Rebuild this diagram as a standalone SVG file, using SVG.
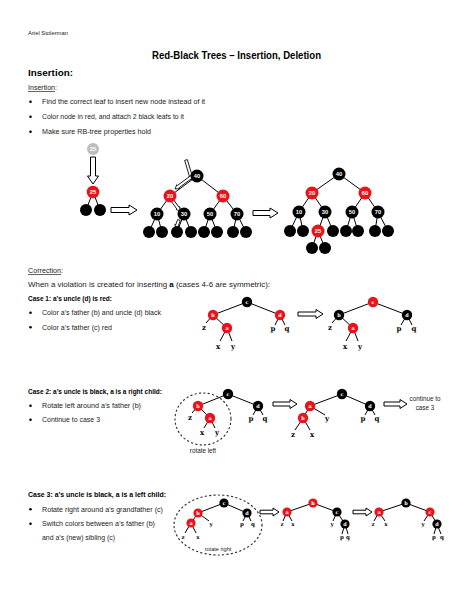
<svg xmlns="http://www.w3.org/2000/svg" width="474" height="613" viewBox="0 0 474 613">
<style>
.t{font-family:"Liberation Sans",Arial,sans-serif;font-size:7px;fill:#222}
.bd{font-weight:bold;fill:#000}
.u{text-decoration:underline}
.e{stroke:#000;stroke-width:1;fill:none}
.r{fill:#e8141c}
.k{fill:#000}
.g{fill:#bdbdbd}
.nl{font-family:"Liberation Sans",Arial,sans-serif;font-weight:bold;font-size:5.8px;fill:#fff;text-anchor:middle}
.cl{font-family:"DejaVu Serif","Liberation Serif",serif;font-weight:bold;font-size:5px;fill:#fff;text-anchor:middle}
.lt{font-family:"DejaVu Serif","Liberation Serif",serif;font-weight:bold;font-size:7px;fill:#000;text-anchor:middle}
.ls{font-size:5.5px}
.ha{fill:#fff;stroke:#000;stroke-width:1;stroke-linejoin:miter}
.sa{fill:#fff;stroke:#000;stroke-width:0.8}
.dash{fill:none;stroke:#333;stroke-width:1.2;stroke-dasharray:1.2,3.2;stroke-linecap:round}
.an{font-family:"Liberation Sans",Arial,sans-serif;font-size:6.3px;fill:#222;text-anchor:middle}
</style>
<rect width="474" height="613" fill="#fff"/>

<g id="text">
<text class="t" x="28" y="35" textLength="40" lengthAdjust="spacingAndGlyphs" style="font-size:5px">Ariel Stolerman</text>
<text class="t bd" x="152" y="59" textLength="169" lengthAdjust="spacingAndGlyphs" style="font-size:11px">Red-Black Trees – Insertion, Deletion</text>
<text class="t bd" x="28" y="75.5" textLength="45" lengthAdjust="spacingAndGlyphs" style="font-size:9px">Insertion:</text>
<text class="t" x="28" y="90" textLength="29" lengthAdjust="spacingAndGlyphs"><tspan class="u">Insertion</tspan>:</text>
<circle cx="30.5" cy="101.8" r="1.3" fill="#000"/>
<text class="t" x="42" y="104" textLength="163" lengthAdjust="spacingAndGlyphs">Find the correct leaf to insert new node instead of it</text>
<circle cx="30.5" cy="116.8" r="1.3" fill="#000"/>
<text class="t" x="42" y="119" textLength="142" lengthAdjust="spacingAndGlyphs">Color node in red, and attach 2 black leafs to it</text>
<circle cx="30.5" cy="131.8" r="1.3" fill="#000"/>
<text class="t" x="42" y="134" textLength="109" lengthAdjust="spacingAndGlyphs">Make sure RB-tree properties hold</text>

<text class="t" x="28" y="273" textLength="35" lengthAdjust="spacingAndGlyphs"><tspan class="u">Correction</tspan>:</text>
<text class="t" x="28" y="287" textLength="242" lengthAdjust="spacingAndGlyphs">When a violation is created for inserting <tspan class="bd">a</tspan> (cases 4-6 are symmetric):</text>
<text class="t bd" x="28" y="301" textLength="84" lengthAdjust="spacingAndGlyphs">Case 1: a’s uncle (d) is red:</text>
<circle cx="30.5" cy="312.8" r="1.3" fill="#000"/>
<text class="t" x="42" y="315" textLength="119" lengthAdjust="spacingAndGlyphs">Color a’s father (b) and uncle (d) black</text>
<circle cx="30.5" cy="327.3" r="1.3" fill="#000"/>
<text class="t" x="42" y="329.5" textLength="70" lengthAdjust="spacingAndGlyphs">Color a’s father (c) red</text>

<text class="t bd" x="28" y="393.5" textLength="134" lengthAdjust="spacingAndGlyphs">Case 2: a’s uncle is black, a is a right child:</text>
<circle cx="30.5" cy="405.8" r="1.3" fill="#000"/>
<text class="t" x="42" y="408" textLength="99" lengthAdjust="spacingAndGlyphs">Rotate left around a’s father (b)</text>
<circle cx="30.5" cy="419.8" r="1.3" fill="#000"/>
<text class="t" x="42" y="422" textLength="58" lengthAdjust="spacingAndGlyphs">Continue to case 3</text>

<text class="t bd" x="28" y="497" textLength="138" lengthAdjust="spacingAndGlyphs">Case 3: a’s uncle is black, a is a left child:</text>
<circle cx="30.5" cy="509.3" r="1.3" fill="#000"/>
<text class="t" x="42" y="511.5" textLength="121" lengthAdjust="spacingAndGlyphs">Rotate right around a’s grandfather (c)</text>
<circle cx="30.5" cy="523.8" r="1.3" fill="#000"/>
<text class="t" x="42" y="526" textLength="113" lengthAdjust="spacingAndGlyphs">Switch colors between a’s father (b)</text>
<text class="t" x="42" y="540" textLength="73" lengthAdjust="spacingAndGlyphs">and a’s (new) sibling (c)</text>
</g>

<g id="connectors">
<line class="e" x1="93" y1="192" x2="86" y2="210"/><line class="e" x1="93" y1="192" x2="100" y2="210"/>
<path class="e" d="M197,176L170,196M197,176L223,196M170,196L157,214M170,196L184,214M223,196L210,214M223,196L237,214M157,214L149,232M157,214L162,232M184,214L177,232M184,214L191,232M210,214L204,232M210,214L217,232M237,214L233,232M237,214L246,232"/>
<path class="e" d="M339,174L312,193M339,174L365,193M312,193L299,212M312,193L325,212M365,193L352,212M365,193L378,212M299,212L290,231M299,212L303,231M325,212L318,231M325,212L333,231M352,212L346,231M352,212L358,231M378,212L375,231M378,212L388,231M318,231L312,248M318,231L325,248"/>
<path class="e" d="M247,302L213,315M247,302L280,315M213,315L227,328M213,315L206,323M227,328L220,341M227,328L232,341M280,315L275,325M280,315L285,325"/>
<path class="e" d="M373,302L339,315M373,302L407,315M339,315L353,328M339,315L332,323M353,328L346,341M353,328L358,341M407,315L401,325M407,315L412,325"/>
<path class="e" d="M228,394L198,406M228,394L258,406M198,406L210,418M198,406L192,413M210,418L204,428M210,418L215,428M258,406L253,415M258,406L263,415"/>
<path class="e" d="M342,394L310,406M342,394L370,406M310,406L303,418M310,406L325,415M303,418L295,430M303,418L310,430M370,406L365,415M370,406L375,415"/>
<path class="e" d="M224,503L198,513M224,503L247,513M198,513L191,523M198,513L209,521M191,523L185,533M191,523L196,533M247,513L243,521M247,513L251,521"/>
<path class="e" d="M313,503L287,512M313,503L337,512M287,512L283,521M287,512L292,521M337,512L333,521M337,512L345,524M345,524L342,534M345,524L348,534"/>
<path class="e" d="M406,503L379,512M406,503L430,512M379,512L374,521M379,512L385,521M430,512L424,521M430,512L437,524M437,524L434,534M437,524L441,534"/>

<path class="ha" d="M90.5,157V176H87.5L93,184L98.5,176H95.5V157Z"/>
<path class="ha" d="M111,207.5H129V205L137,210L129,215V212.5H111Z"/>
<path class="ha" d="M253,210.5H270V208L278,213L270,218V215.5H253Z"/>
<path class="ha" d="M298,312H316V309.5L323,314L316,318.5V316H298Z"/>
<path class="ha" d="M273,402H290V399.5L297,404L290,408.5V406H273Z"/>
<path class="ha" d="M384,402H400V399.5L407,404L400,408.5V406H384Z"/>
<path class="ha" d="M260,510.2H273V508L279,512L273,516V513.8H260Z"/>
<path class="ha" d="M353,510.2H366V508L372,512L366,516V513.8H353Z"/>

<path class="sa" transform="translate(186,160) rotate(73.3)" d="M0,-1.4H17V-2.4L21,0L17,2.4V1.4H0Z"/>
<path class="sa" transform="translate(194,175) rotate(143.6)" d="M0,-1.4H19.6V-2.4L23.6,0L19.6,2.4V1.4H0Z"/>
<path class="sa" transform="translate(172,200) rotate(54)" d="M0,-1.4H10V-2.4L13.6,0L10,2.4V1.4H0Z"/>
<path class="sa" transform="translate(179,220) rotate(110.6)" d="M0,-1.4H5.5V-2.4L8.5,0L5.5,2.4V1.4H0Z"/>

<ellipse class="dash" cx="203" cy="419" rx="28" ry="26"/>
<ellipse class="dash" cx="218" cy="525" rx="44" ry="30"/>
</g>

<g id="tree1">
<g id="t1-new25"><circle class="g" cx="93" cy="149" r="6"/><text class="nl" x="93" y="151">25</text></g>
<g id="t1-n25"><circle class="r" cx="93" cy="192" r="6.3"/><text class="nl" x="93" y="194">25</text></g>
<g id="t1-l1"><circle class="k" cx="86" cy="210" r="6"/></g>
<g id="t1-l2"><circle class="k" cx="100" cy="210" r="6"/></g>
</g>

<g id="tree2">
<g id="t2-n40"><circle class="k" cx="197" cy="176" r="6.5"/><text class="nl" x="197" y="178">40</text></g>
<g id="t2-n20"><circle class="r" cx="170" cy="196" r="6.5"/><text class="nl" x="170" y="198">20</text></g>
<g id="t2-n60"><circle class="r" cx="223" cy="196" r="6.5"/><text class="nl" x="223" y="198">60</text></g>
<g id="t2-n10"><circle class="k" cx="157" cy="214" r="6.5"/><text class="nl" x="157" y="216">10</text></g>
<g id="t2-n30"><circle class="k" cx="184" cy="214" r="6.5"/><text class="nl" x="184" y="216">30</text></g>
<g id="t2-n50"><circle class="k" cx="210" cy="214" r="6.5"/><text class="nl" x="210" y="216">50</text></g>
<g id="t2-n70"><circle class="k" cx="237" cy="214" r="6.5"/><text class="nl" x="237" y="216">70</text></g>
<g id="t2-leaves">
<circle class="k" cx="149" cy="232" r="6"/><circle class="k" cx="162" cy="232" r="6"/>
<circle class="k" cx="177" cy="232" r="6"/><circle class="k" cx="191" cy="232" r="6"/>
<circle class="k" cx="204" cy="232" r="6"/><circle class="k" cx="217" cy="232" r="6"/>
<circle class="k" cx="233" cy="232" r="6"/><circle class="k" cx="246" cy="232" r="6"/>
</g>
</g>

<g id="tree3">
<g id="t3-n40"><circle class="k" cx="339" cy="174" r="6.5"/><text class="nl" x="339" y="176">40</text></g>
<g id="t3-n20"><circle class="r" cx="312" cy="193" r="6.5"/><text class="nl" x="312" y="195">20</text></g>
<g id="t3-n60"><circle class="r" cx="365" cy="193" r="6.5"/><text class="nl" x="365" y="195">60</text></g>
<g id="t3-n10"><circle class="k" cx="299" cy="212" r="6.5"/><text class="nl" x="299" y="214">10</text></g>
<g id="t3-n30"><circle class="k" cx="325" cy="212" r="6.5"/><text class="nl" x="325" y="214">30</text></g>
<g id="t3-n50"><circle class="k" cx="352" cy="212" r="6.5"/><text class="nl" x="352" y="214">50</text></g>
<g id="t3-n70"><circle class="k" cx="378" cy="212" r="6.5"/><text class="nl" x="378" y="214">70</text></g>
<g id="t3-n25"><circle class="r" cx="318" cy="231" r="6.5"/><text class="nl" x="318" y="233">25</text></g>
<g id="t3-leaves">
<circle class="k" cx="290" cy="231" r="6"/><circle class="k" cx="303" cy="231" r="6"/>
<circle class="k" cx="333" cy="231" r="6"/>
<circle class="k" cx="346" cy="231" r="6"/><circle class="k" cx="358" cy="231" r="6"/>
<circle class="k" cx="375" cy="231" r="6"/><circle class="k" cx="388" cy="231" r="6"/>
<circle class="k" cx="312" cy="248" r="6"/><circle class="k" cx="325" cy="248" r="6"/>
</g>
</g>

<g id="case1-left">
<g id="c1l-c"><circle class="k" cx="247" cy="302" r="5.2"/><text class="cl" x="247" y="303.7">c</text></g>
<g id="c1l-b"><circle class="r" cx="213" cy="315" r="5.2"/><text class="cl" x="213" y="316.7">b</text></g>
<g id="c1l-d"><circle class="r" cx="280" cy="315" r="5.2"/><text class="cl" x="280" y="316.7">d</text></g>
<g id="c1l-a"><circle class="r" cx="227" cy="328" r="5.2"/><text class="cl" x="227" y="329.7">a</text></g>
<g id="c1l-leaves"><text class="lt" x="204" y="330">z</text><text class="lt" x="218" y="348.5">x</text><text class="lt" x="233" y="348.5">y</text><text class="lt" x="273" y="331">p</text><text class="lt" x="287" y="331">q</text></g>
</g>

<g id="case1-right">
<g id="c1r-c"><circle class="r" cx="373" cy="302" r="5.2"/><text class="cl" x="373" y="303.7">c</text></g>
<g id="c1r-b"><circle class="k" cx="339" cy="315" r="5.2"/><text class="cl" x="339" y="316.7">b</text></g>
<g id="c1r-d"><circle class="k" cx="407" cy="315" r="5.2"/><text class="cl" x="407" y="316.7">d</text></g>
<g id="c1r-a"><circle class="r" cx="353" cy="328" r="5.2"/><text class="cl" x="353" y="329.7">a</text></g>
<g id="c1r-leaves"><text class="lt" x="330" y="330">z</text><text class="lt" x="345" y="348.5">x</text><text class="lt" x="360" y="348.5">y</text><text class="lt" x="399" y="331">p</text><text class="lt" x="414" y="331">q</text></g>
</g>

<g id="case2-left">
<g id="c2l-c"><circle class="k" cx="228" cy="394" r="5.2"/><text class="cl" x="228" y="395.7">c</text></g>
<g id="c2l-b"><circle class="r" cx="198" cy="406" r="5.2"/><text class="cl" x="198" y="407.7">b</text></g>
<g id="c2l-a"><circle class="r" cx="210" cy="418" r="5.2"/><text class="cl" x="210" y="419.7">a</text></g>
<g id="c2l-d"><circle class="k" cx="258" cy="406" r="5.2"/><text class="cl" x="258" y="407.7">d</text></g>
<g id="c2l-leaves"><text class="lt" x="190" y="420">z</text><text class="lt" x="202" y="435">x</text><text class="lt" x="217" y="435">y</text><text class="lt" x="251" y="421">p</text><text class="lt" x="265" y="421">q</text></g>
<text id="c2-rotate" class="an" x="203" y="453">rotate left</text>
</g>

<g id="case2-right">
<g id="c2r-c"><circle class="k" cx="342" cy="394" r="5.2"/><text class="cl" x="342" y="395.7">c</text></g>
<g id="c2r-a"><circle class="r" cx="310" cy="406" r="5.2"/><text class="cl" x="310" y="407.7">a</text></g>
<g id="c2r-b"><circle class="r" cx="303" cy="418" r="5.2"/><text class="cl" x="303" y="419.7">b</text></g>
<g id="c2r-d"><circle class="k" cx="370" cy="406" r="5.2"/><text class="cl" x="370" y="407.7">d</text></g>
<g id="c2r-leaves"><text class="lt" x="327" y="421">y</text><text class="lt" x="293" y="437">z</text><text class="lt" x="312" y="437">x</text><text class="lt" x="363" y="421">p</text><text class="lt" x="377" y="421">q</text></g>
<g id="c2-continue"><text class="an" x="425" y="401">continue to</text><text class="an" x="425" y="410">case 3</text></g>
</g>

<g id="case3-left">
<g id="c3l-c"><circle class="k" cx="224" cy="503" r="4.6"/><text class="cl" x="224" y="504.6">c</text></g>
<g id="c3l-b"><circle class="r" cx="198" cy="513" r="4.6"/><text class="cl" x="198" y="514.6">b</text></g>
<g id="c3l-a"><circle class="r" cx="191" cy="523" r="4.6"/><text class="cl" x="191" y="524.6">a</text></g>
<g id="c3l-d"><circle class="k" cx="247" cy="513" r="4.6"/><text class="cl" x="247" y="514.6">d</text></g>
<g id="c3l-leaves"><text class="lt ls" x="211" y="526">y</text><text class="lt ls" x="183" y="539">z</text><text class="lt ls" x="198" y="539">x</text><text class="lt ls" x="242" y="525.5">p</text><text class="lt ls" x="253" y="525.5">q</text></g>
<text id="c3-rotate" class="an" x="218" y="551" style="font-size:5.6px">rotate right</text>
</g>

<g id="case3-mid">
<g id="c3m-b"><circle class="r" cx="313" cy="503" r="4.6"/><text class="cl" x="313" y="504.6">b</text></g>
<g id="c3m-a"><circle class="r" cx="287" cy="512" r="4.6"/><text class="cl" x="287" y="513.6">a</text></g>
<g id="c3m-c"><circle class="k" cx="337" cy="512" r="4.6"/><text class="cl" x="337" y="513.6">c</text></g>
<g id="c3m-d"><circle class="k" cx="345" cy="524" r="4.6"/><text class="cl" x="345" y="525.6">d</text></g>
<g id="c3m-leaves"><text class="lt ls" x="282" y="526">z</text><text class="lt ls" x="293" y="526">x</text><text class="lt ls" x="332" y="526">y</text><text class="lt ls" x="342" y="539">p</text><text class="lt ls" x="348" y="539">q</text></g>
</g>

<g id="case3-right">
<g id="c3r-b"><circle class="k" cx="406" cy="503" r="4.6"/><text class="cl" x="406" y="504.6">b</text></g>
<g id="c3r-a"><circle class="r" cx="379" cy="512" r="4.6"/><text class="cl" x="379" y="513.6">a</text></g>
<g id="c3r-c"><circle class="r" cx="430" cy="512" r="4.6"/><text class="cl" x="430" y="513.6">c</text></g>
<g id="c3r-d"><circle class="k" cx="437" cy="524" r="4.6"/><text class="cl" x="437" y="525.6">d</text></g>
<g id="c3r-leaves"><text class="lt ls" x="373" y="526">z</text><text class="lt ls" x="386" y="526">x</text><text class="lt ls" x="423" y="526">y</text><text class="lt ls" x="434" y="539">p</text><text class="lt ls" x="442" y="539">q</text></g>
</g>
</svg>
